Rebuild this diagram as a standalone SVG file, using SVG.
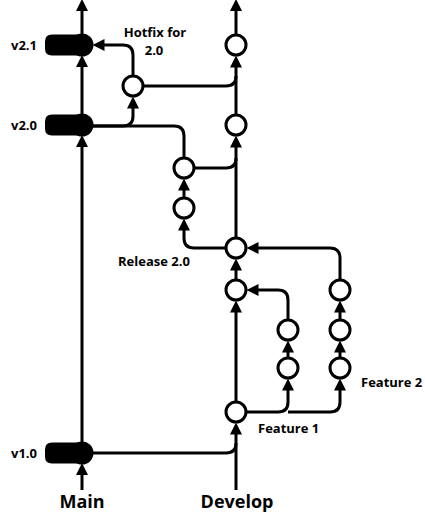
<svg xmlns="http://www.w3.org/2000/svg" width="425" height="513" viewBox="0 0 425 513">
<style>
.ln{fill:none;stroke:#000;stroke-width:3;}
.ar{marker-end:url(#ah);}
.nd{fill:#fff;stroke:#000;stroke-width:3;}
.tg{fill:#000;}
.t{font-family:"Open Sans","Noto Sans",sans-serif;font-weight:bold;font-size:13px;fill:#000;}
.big{font-size:18px;text-anchor:middle;}
</style>
<defs>
<marker id="ah" markerUnits="userSpaceOnUse" markerWidth="12" markerHeight="12" refX="5" refY="5" orient="auto" viewBox="0 0 10 10">
<path d="M0,0 L10,5 L0,10 z" fill="#000"/>
</marker>
</defs>
<g id="connectors">
<path class="ln ar" d="M82,490 V469"/>
<path class="ln ar" d="M82,453 V141"/>
<path class="ln ar" d="M82,125 V61"/>
<path class="ln ar" d="M82,45 V5"/>
<path class="ln ar" d="M236,490 V428.5"/>
<path class="ln ar" d="M236,412 V306.5"/>
<path class="ln ar" d="M236,290 V264.5"/>
<path class="ln ar" d="M236,248 V141.5"/>
<path class="ln ar" d="M236,125 V61.5"/>
<path class="ln ar" d="M236,45 V5"/>
<path class="ln" d="M82,453 H226 Q236,453 236,443"/>
<path class="ln ar" d="M236,412 H278 Q288,412 288,402 V384.5"/>
<path class="ln ar" d="M288,412 H330 Q340,412 340,402 V384.5"/>
<path class="ln ar" d="M288,368 V346.5"/>
<path class="ln ar" d="M288,330 V300 Q288,290 278,290 H252.5"/>
<path class="ln ar" d="M340,368 V346.5"/>
<path class="ln ar" d="M340,330 V306.5"/>
<path class="ln ar" d="M340,290 V258 Q340,248 330,248 H252.5"/>
<path class="ln ar" d="M236,248 H194 Q184,248 184,238 V224.5"/>
<path class="ln ar" d="M184,208 V184.5"/>
<path class="ln" d="M184,168 H226 Q236,168 236,158"/>
<path class="ln" d="M184,168 V136 Q184,126 174,126 H82"/>
<path class="ln ar" d="M82,126 H123 Q133,126 133,116 V102.5"/>
<path class="ln ar" d="M133,86 V55 Q133,45 123,45 H98.5"/>
<path class="ln" d="M133,86 H226 Q236,86 236,76"/>
</g>
<g id="tag-v2.1"><path class="tg" d="M82,34.5 H52 Q45,34.5 45,41.5 V48.5 Q45,55.5 52,55.5 H82 z"/><circle class="tg" cx="82" cy="45" r="11.5"/><text class="t" x="37" y="50" text-anchor="end">v2.1</text></g>
<g id="tag-v2.0"><path class="tg" d="M82,114.5 H52 Q45,114.5 45,121.5 V128.5 Q45,135.5 52,135.5 H82 z"/><circle class="tg" cx="82" cy="125" r="11.5"/><text class="t" x="37" y="130" text-anchor="end">v2.0</text></g>
<g id="tag-v1.0"><path class="tg" d="M82,442.5 H52 Q45,442.5 45,449.5 V456.5 Q45,463.5 52,463.5 H82 z"/><circle class="tg" cx="82" cy="453" r="11.5"/><text class="t" x="37" y="458" text-anchor="end">v1.0</text></g>
<g id="hotfix"><circle class="nd" cx="133" cy="86" r="10"/><text class="t" x="155" y="37" text-anchor="middle">Hotfix for</text><text class="t" x="154" y="55" text-anchor="middle">2.0</text></g>
<g id="dev-1"><circle class="nd" cx="236" cy="45" r="10"/></g>
<g id="dev-2"><circle class="nd" cx="236" cy="125" r="10"/></g>
<g id="dev-3"><circle class="nd" cx="236" cy="248" r="10"/></g>
<g id="dev-4"><circle class="nd" cx="236" cy="290" r="10"/></g>
<g id="dev-5"><circle class="nd" cx="236" cy="412" r="10"/></g>
<g id="rel-1"><circle class="nd" cx="184" cy="168" r="10"/></g>
<g id="rel-2"><circle class="nd" cx="184" cy="208" r="10"/></g>
<g id="f1-1"><circle class="nd" cx="288" cy="368" r="10"/></g>
<g id="f1-2"><circle class="nd" cx="288" cy="330" r="10"/></g>
<g id="f2-1"><circle class="nd" cx="340" cy="368" r="10"/></g>
<g id="f2-2"><circle class="nd" cx="340" cy="330" r="10"/></g>
<g id="f2-3"><circle class="nd" cx="340" cy="290" r="10"/></g>
<g id="labels">
<text class="t" x="118" y="266">Release 2.0</text>
<text class="t" x="361" y="387">Feature 2</text>
<text class="t" x="258" y="433">Feature 1</text>
<text class="t big" x="82" y="508">Main</text>
<text class="t big" x="237" y="508">Develop</text>
</g>
</svg>
